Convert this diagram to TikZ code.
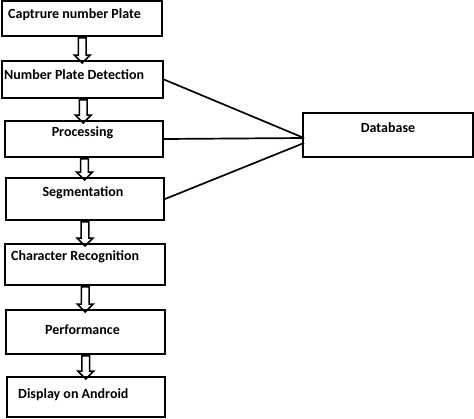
\documentclass[tikz,border=0pt]{standalone}
\usepackage{fontspec}
\setmainfont{Carlito}
\usepackage{tikz}
\usetikzlibrary{shapes.arrows,calc,positioning}
\definecolor{boxline}{HTML}{000000}

\tikzset{
  stage/.style={draw=boxline,line width=2pt,inner sep=0pt},
  txt/.style={inner sep=0pt,font=\fontsize{14}{16}\selectfont\bfseries},
  downarrow/.style={single arrow,draw=boxline,line width=1.5pt,inner sep=3.2pt,
    single arrow head extend=4pt,minimum height=#1,rotate=-90},
  link/.style={draw=boxline,line width=1.7pt}
}

\begin{document}
\begin{tikzpicture}[x=1pt,y=-1pt]
\useasboundingbox (0,0) rectangle (474,418);
% left column of steps
\node[stage,minimum width=160,minimum height=35] (cap) at (82,18.5) {};
\node[stage,minimum width=161,minimum height=37] (det) at (82.5,79.5) {};
\node[stage,minimum width=158,minimum height=36] (proc) at (84,139) {};
\node[stage,minimum width=158,minimum height=42] (seg) at (85,199) {};
\node[stage,minimum width=160,minimum height=41] (chr) at (85,264.5) {};
\node[stage,minimum width=159,minimum height=44] (perf) at (85.5,332) {};
\node[stage,minimum width=158,minimum height=40] (disp) at (86,397) {};
\node[stage,minimum width=170,minimum height=44] (db) at (388,135) {};
% texts
\node[txt,anchor=west] (tcap) at (8,15) {Captrure number Plate};
\node[txt,anchor=west] (tdet) at (4,75) {Number Plate Detection};
\node[txt] (tproc) at (82.5,133) {Processing};
\node[txt] (tseg) at (83,193) {Segmentation};
\node[txt,anchor=west] (tchr) at (11,257) {Character Recognition};
\node[txt] (tperf) at (82.5,330) {Performance};
\node[txt,anchor=west] (tdisp) at (18,395) {Display on Android};
\node[txt] (tdb) at (388,128) {Database};
% hollow arrows between steps
\path (cap.south) -- node[downarrow=25] (a1) {} (det.north);
\path (det.south) -- node[downarrow=23] (a2) {} (proc.north);
\path (proc.south) -- node[downarrow=21] (a3) {} (seg.north);
\path (seg.south) -- node[downarrow=24] (a4) {} (chr.north);
\path (chr.south) -- node[downarrow=25] (a5) {} (perf.north);
\path (perf.south) -- node[downarrow=23] (a6) {} (disp.north);
% links to the database
\coordinate (dbin) at ($(db.west)+(2,3)$);
\coordinate (dbin2) at ($(db.west)+(2,8)$);
\draw[link] (det.east) -- (dbin);
\draw[link] (proc.east) -- (dbin);
\draw[link] (seg.east) -- (dbin2);
\end{tikzpicture}
\end{document}
